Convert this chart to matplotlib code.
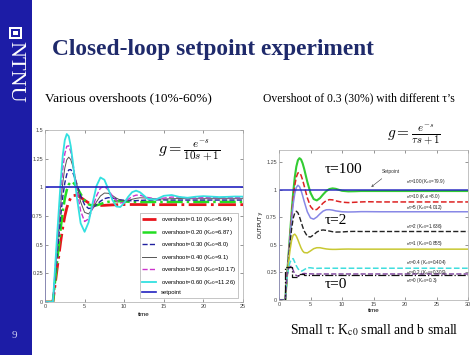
import matplotlib.pyplot as plt
from matplotlib.patches import Rectangle

plt.rcParams['font.family'] = ['Liberation Sans', 'DejaVu Sans']

# ---------------- left chart: g = e^-s/(10s+1), various overshoots
t_left = [0, 1, 1.5, 2, 2.25, 2.5, 2.75, 3, 3.25, 3.5, 4, 4.5, 5, 5.5, 6, 6.5, 7, 7.5, 8, 8.5,
          9, 9.5, 10, 10.5, 11, 11.5, 12, 13, 14, 15, 16, 17, 18, 19, 20, 21, 22, 23, 24, 25]
os_010 = [0, 0, 0.275, 0.537, 0.653, 0.747, 0.820, 0.873, 0.908, 0.927, 0.932, 0.913, 0.887, 0.865,
          0.851, 0.844, 0.842, 0.843, 0.845, 0.847, 0.848, 0.849, 0.850, 0.850, 0.850, 0.850, 0.850,
          0.849, 0.849, 0.849, 0.849, 0.849, 0.849, 0.849, 0.849, 0.849, 0.849, 0.849, 0.849, 0.849]
os_020 = [0, 0, 0.335, 0.654, 0.793, 0.900, 0.977, 1.025, 1.047, 1.047, 1.005, 0.942, 0.886, 0.852,
          0.839, 0.843, 0.854, 0.866, 0.874, 0.877, 0.879, 0.878, 0.876, 0.875, 0.873, 0.872, 0.872,
          0.872, 0.873, 0.873, 0.873, 0.873, 0.873, 0.873, 0.873, 0.873, 0.873, 0.873, 0.873, 0.873]
os_030 = [0, 0, 0.390, 0.762, 0.921, 1.038, 1.114, 1.152, 1.155, 1.131, 1.035, 0.926, 0.848, 0.815,
          0.821, 0.848, 0.879, 0.901, 0.910, 0.908, 0.899, 0.891, 0.887, 0.884, 0.883, 0.884, 0.886,
          0.889, 0.891, 0.890, 0.889, 0.889, 0.889, 0.889, 0.889, 0.889, 0.889, 0.889, 0.889, 0.889]
os_040 = [0, 0, 0.444, 0.866, 1.044, 1.168, 1.240, 1.263, 1.242, 1.187, 1.027, 0.873, 0.782, 0.768,
          0.810, 0.873, 0.925, 0.950, 0.948, 0.929, 0.906, 0.889, 0.882, 0.886, 0.896, 0.904, 0.909,
          0.906, 0.899, 0.898, 0.901, 0.902, 0.901, 0.901, 0.901, 0.901, 0.901, 0.901, 0.901, 0.901]
os_050 = [0, 0, 0.496, 0.968, 1.164, 1.293, 1.358, 1.362, 1.311, 1.221, 0.991, 0.794, 0.702, 0.725,
          0.819, 0.925, 0.994, 1.008, 0.977, 0.926, 0.883, 0.864, 0.870, 0.895, 0.920, 0.932, 0.931,
          0.911, 0.899, 0.906, 0.915, 0.914, 0.908, 0.908, 0.910, 0.911, 0.911, 0.910, 0.910, 0.910]
os_060 = [0, 0, 0.549, 1.072, 1.282, 1.412, 1.465, 1.445, 1.360, 1.230, 0.924, 0.687, 0.612, 0.694,
          0.859, 1.012, 1.086, 1.066, 0.983, 0.891, 0.833, 0.828, 0.865, 0.917, 0.958, 0.971, 0.957,
          0.898, 0.894, 0.926, 0.933, 0.916, 0.909, 0.918, 0.923, 0.919, 0.915, 0.917, 0.920, 0.919]
left_labels = ['overshoot=0.10 (K$_{c0}$=5.64)', 'overshoot=0.20 (K$_{c0}$=6.87)',
               'overshoot=0.30 (K$_{c0}$=8.0)', 'overshoot=0.40 (K$_{c0}$=9.1)',
               'overshoot=0.50 (K$_{c0}$=10.17)', 'overshoot=0.60 (K$_{c0}$=11.26)']
sp_left_t = [0, 0, 25]
sp_left_y = [0, 1, 1]

# ---------------- right chart: g = e^-s/(tau s+1), overshoot 0.3
t_right = [0, 1, 1.25, 1.5, 1.75, 2, 2.25, 2.5, 2.75, 3, 3.25, 3.5, 3.75, 4, 4.5, 5, 5.5, 6, 6.5, 7,
           7.5, 8, 8.5, 9, 10, 11, 12, 13, 14, 16, 18, 20, 25, 30]
tau100 = [0, 0, 0.200, 0.399, 0.597, 0.795, 0.973, 1.111, 1.209, 1.267, 1.286, 1.274, 1.239, 1.188,
          1.070, 0.971, 0.915, 0.903, 0.923, 0.957, 0.987, 1.006, 1.012, 1.008, 0.990, 0.985, 0.986,
          0.988, 0.988, 0.988, 0.988, 0.988, 0.988, 0.988]
tau10 = [0, 0, 0.198, 0.390, 0.578, 0.762, 0.921, 1.038, 1.114, 1.152, 1.155, 1.131, 1.088, 1.035,
         0.926, 0.848, 0.815, 0.821, 0.848, 0.879, 0.901, 0.910, 0.908, 0.899, 0.887, 0.883, 0.886,
         0.889, 0.891, 0.889, 0.889, 0.889, 0.889, 0.889]
tau5 = [0, 0, 0.196, 0.382, 0.559, 0.727, 0.868, 0.964, 1.020, 1.040, 1.028, 0.993, 0.946, 0.893,
        0.799, 0.744, 0.733, 0.752, 0.781, 0.806, 0.818, 0.819, 0.815, 0.808, 0.800, 0.798, 0.799,
        0.801, 0.801, 0.800, 0.800, 0.800, 0.800, 0.800]
tau2 = [0, 0, 0.192, 0.362, 0.512, 0.644, 0.740, 0.790, 0.805, 0.791, 0.755, 0.710, 0.665, 0.626,
        0.577, 0.571, 0.591, 0.616, 0.631, 0.635, 0.631, 0.625, 0.619, 0.616, 0.617, 0.621, 0.622,
        0.621, 0.621, 0.621, 0.621, 0.621, 0.621, 0.621]
tau1 = [0, 0, 0.189, 0.336, 0.451, 0.540, 0.588, 0.597, 0.579, 0.546, 0.508, 0.472, 0.445, 0.430,
        0.427, 0.445, 0.465, 0.474, 0.474, 0.468, 0.463, 0.460, 0.459, 0.459, 0.461, 0.462, 0.461,
        0.461, 0.461, 0.461, 0.461, 0.461, 0.461, 0.461]
tau04 = [0, 0, 0.188, 0.288, 0.342, 0.371, 0.375, 0.343, 0.310, 0.285, 0.267, 0.262, 0.266, 0.275,
         0.293, 0.292, 0.288, 0.287, 0.288, 0.288, 0.288, 0.288, 0.288, 0.288, 0.288, 0.288, 0.288,
         0.288, 0.288, 0.288, 0.288, 0.288, 0.288, 0.288]
tau02 = [0, 0, 0.220, 0.284, 0.302, 0.307, 0.270, 0.235, 0.222, 0.216, 0.222, 0.232, 0.238, 0.241,
         0.238, 0.237, 0.236, 0.236, 0.236, 0.236, 0.236, 0.236, 0.236, 0.236, 0.236, 0.236, 0.236,
         0.236, 0.236, 0.236, 0.236, 0.236, 0.236, 0.236]
tau0_t = [0, 1, 1, 2, 2, 3, 3, 4, 4, 5, 5, 30]
tau0_y = [0, 0, 0.3, 0.3, 0.21, 0.21, 0.237, 0.237, 0.229, 0.229, 0.231, 0.231]
right_labels = ['τ=100 (K$_{c0}$=79.9)', 'τ=10 (K$_{c0}$=8.0)', 'τ=5 (K$_{c0}$=4.012)',
                'τ=2 (K$_{c0}$=1.636)', 'τ=1 (K$_{c0}$=0.855)', 'τ=0.4 (K$_{c0}$=0.404)',
                'τ=0.2 (K$_{c0}$=0.309)', 'τ=0 (K$_{c0}$=0.3)']
right_label_y = [1.07, 0.94, 0.84, 0.67, 0.51, 0.34, 0.25, 0.18]
sp_right_t = [0, 0, 30]
sp_right_y = [0, 1, 1]

W, H = 474, 355
BLUE = '#1c1ca6'
SERIF = 'Liberation Serif'


def fx(px):
    return px / W


def fy(py):
    return 1 - py / H


def matlab_style(ax):
    ax.tick_params(direction='in', length=2, width=0.4, labelsize=4, colors='#444444',
                   top=True, right=True, pad=1.5)
    for s in ax.spines.values():
        s.set_color('#aaaaaa')
        s.set_linewidth(0.5)


fig = plt.figure(figsize=(W / 100, H / 100), dpi=100)
fig.patch.set_facecolor('white')

# slide decoration
fig.patches.append(Rectangle((0, 0), fx(32), 1, transform=fig.transFigure,
                             facecolor=BLUE, edgecolor='none', zorder=0))
fig.patches.append(Rectangle((fx(9), fy(39)), fx(13), 12 / H, transform=fig.transFigure,
                             facecolor='white', edgecolor='none', zorder=1))
fig.patches.append(Rectangle((fx(11), fy(37)), fx(9), 8 / H, transform=fig.transFigure,
                             facecolor=BLUE, edgecolor='none', zorder=2))
fig.patches.append(Rectangle((fx(13), fy(35)), fx(5), 4 / H, transform=fig.transFigure,
                             facecolor='white', edgecolor='none', zorder=3))
fig.text(fx(15), fy(72), 'NTNU', rotation=-90, color='white', family=SERIF, fontsize=16,
         ha='center', va='center')
fig.text(fx(14), fy(335), '9', color='#c8c8ee', family=SERIF, fontsize=8, ha='center', va='center')
fig.text(fx(52), fy(50), 'Closed-loop setpoint experiment', family=SERIF, weight='bold',
         fontsize=16.8, color='#1f2a6b', va='center')
fig.text(fx(45), fy(98), 'Various overshoots (10%-60%)', family=SERIF, fontsize=9.5, va='center')
fig.text(fx(263), fy(98), 'Overshoot of 0.3 (30%) with different τ’s', family=SERIF,
         fontsize=8.4, va='center')
fig.text(fx(290), fy(330), r'Small τ: K$_{\mathrm{c0}}$ small and b small', family=SERIF,
         math_fontfamily='stix', fontsize=9.8, va='center')
fig.text(fx(414), fy(135), r'$g = \frac{e^{-s}}{\tau s+1}$', math_fontfamily='cm', fontsize=11,
         ha='center', va='center')

# ---------------- left axes
axL = fig.add_axes([fx(45), fy(302), fx(198), 172 / H])
left_series = [os_010, os_020, os_030, os_040, os_050, os_060]
left_styles = [('#e8141c', '-.', 2.0), ('#22dd22', '-.', 1.8), ('#2020a0', '--', 1.0),
               ('#555555', '-', 0.7), ('#cc33cc', '--', 1.0), ('#33e0e0', '-', 1.3)]
for y, (c, ls, lw), lab in zip(left_series, left_styles, left_labels):
    axL.plot(t_left, y, color=c, ls=ls, lw=lw, label=lab)
axL.plot(sp_left_t, sp_left_y, color='#2222c0', lw=1.2, label='setpoint')
axL.set_xlim(0, 25)
axL.set_ylim(0, 1.5)
axL.set_xticks([0, 5, 10, 15, 20, 25])
axL.set_yticks([0, 0.25, 0.5, 0.75, 1, 1.25, 1.5])
axL.set_yticklabels(['0', '0.25', '0.5', '0.75', '1', '1.25', '1.5'])
axL.set_xlabel('time', fontsize=4.5, labelpad=2)
axL.set_ylabel('OUTPUT  y', fontsize=4, labelpad=2)
matlab_style(axL)
axL.text(18.2, 1.32, r'$g = \frac{e^{-s}}{10s+1}$', math_fontfamily='cm', fontsize=11.5,
         ha='center', va='center')
leg = axL.legend(loc='lower right', bbox_to_anchor=(0.975, 0.025), borderaxespad=0,
                 fontsize=4.2, handlelength=2.4, labelspacing=0.6, fancybox=False,
                 edgecolor='#999999', framealpha=1)
leg.get_frame().set_linewidth(0.4)

# ---------------- right axes
axR = fig.add_axes([fx(279), fy(300), fx(189), 150 / H])
right_series = [tau100, tau10, tau5, tau2, tau1, tau04, tau02]
right_styles = [('#33cc33', '-', 1.5), ('#dd2222', '--', 1.1), ('#8888e6', '-', 1.1),
                ('#222222', '--', 1.0), ('#c8c832', '-', 1.1), ('#40dede', '--', 1.1),
                ('#7a3c9a', '--', 1.0)]
for y, (c, ls, lw) in zip(right_series, right_styles):
    axR.plot(t_right, y, color=c, ls=ls, lw=lw)
axR.plot(tau0_t, tau0_y, color='#111111', ls='-.', lw=0.9)
axR.plot(sp_right_t, sp_right_y, color='#2222c0', lw=1.2, alpha=0.85)
axR.set_xlim(0, 30)
axR.set_ylim(0, 1.36)
axR.set_xticks([0, 5, 10, 15, 20, 25, 30])
axR.set_yticks([0, 0.25, 0.5, 0.75, 1, 1.25])
axR.set_yticklabels(['0', '0.25', '0.5', '0.75', '1', '1.25'])
axR.set_xlabel('time', fontsize=4.5, labelpad=1)
axR.set_ylabel('OUTPUT y', fontsize=4, labelpad=2)
matlab_style(axR)
for lab, yl in zip(right_labels, right_label_y):
    axR.text(20.2, yl, '◀' + lab, fontsize=3.3, color='#222222', va='center')
axR.annotate('Setpoint', xy=(14.3, 1.01), xytext=(16.3, 1.15), fontsize=3.5, color='#333333',
             arrowprops=dict(arrowstyle='->', lw=0.4, color='#333333'))
axR.text(10.2, 1.18, 'τ=100', family=SERIF, fontsize=11, ha='center', va='center')
axR.text(9.0, 0.725, 'τ=2', family=SERIF, fontsize=11, ha='center', va='center')
axR.text(9.0, 0.136, 'τ=0', family=SERIF, fontsize=11, ha='center', va='center')

fig.savefig('out.png', dpi=100)
